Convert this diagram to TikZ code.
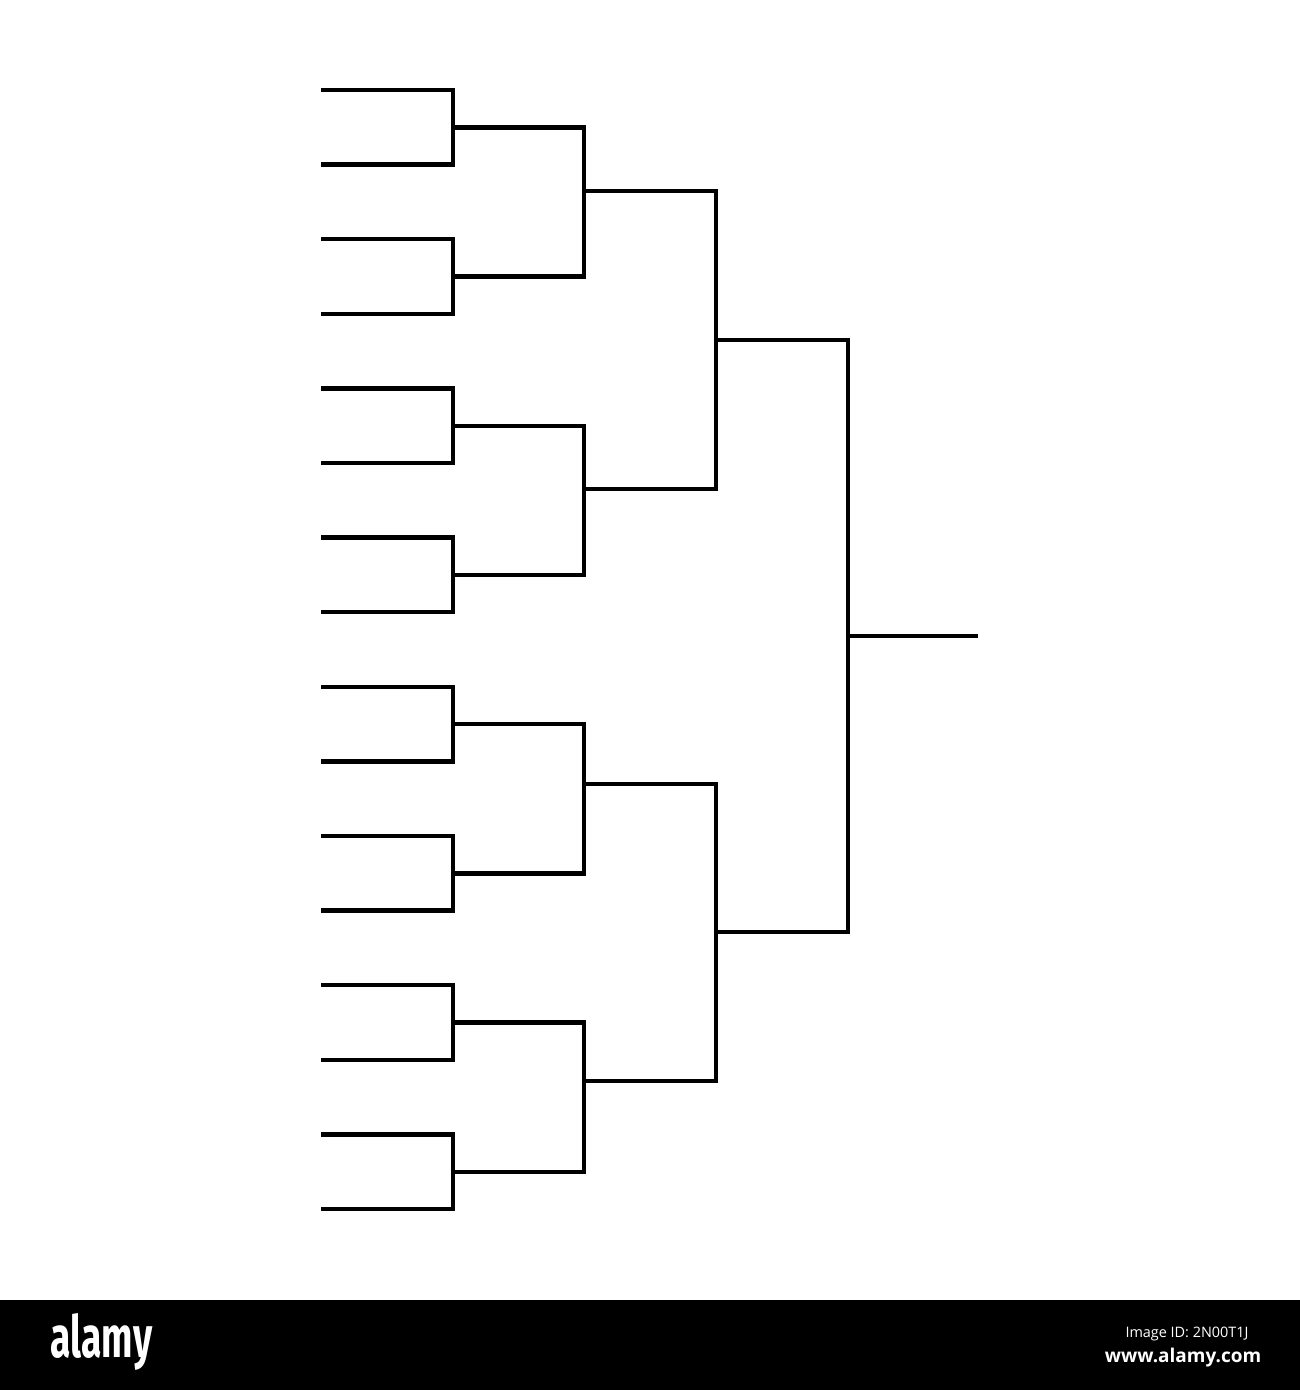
\documentclass[tikz,border=0pt]{standalone}
\usepackage{fontspec}
\setmainfont{Open Sans}
\newfontfamily\logofont{Fira Sans}
\usetikzlibrary{positioning}

\tikzset{
  bracket/.style={line width=1.25pt, line join=miter},
  stamp/.style={inner sep=0pt, text=white},
}

\begin{document}
\begin{tikzpicture}[x=0.01cm,y=-0.01cm]
	\useasboundingbox (0,0) rectangle (1300,1390);
	\pgfmathsetmacro{\EntryX}{321}
	\pgfmathsetmacro{\RoundOneX}{453}
	\pgfmathsetmacro{\RoundTwoX}{584}
	\pgfmathsetmacro{\RoundThreeX}{716}
	\pgfmathsetmacro{\FinalX}{848}
	\pgfmathsetmacro{\WinnerX}{978}
	\pgfmathsetmacro{\EntryGap}{74.6}
	
	% first round entries and their joints
	\foreach \i in {0,...,15}
		\coordinate (e\i) at (\EntryX, 90+\EntryGap*\i);
	\foreach \k [evaluate=\k as \a using int(2*\k), evaluate=\k as \b using int(2*\k+1)] in {0,...,7} {
		\coordinate (m\k) at (\RoundOneX, 127.3+2*\EntryGap*\k);
		\draw[bracket] (e\a) -| (m\k) |- (e\b);
	}
	
	% second round
	\coordinate (n0) at (\RoundTwoX,191);
	\coordinate (n1) at (\RoundTwoX,489);
	\coordinate (n2) at (\RoundTwoX,784);
	\coordinate (n3) at (\RoundTwoX,1081);
	\draw[bracket] (m0) -| (n0) |- (m1);
	\draw[bracket] (m2) -| (n1) |- (m3);
	\draw[bracket] (m4) -| (n2) |- (m5);
	\draw[bracket] (m6) -| (n3) |- (m7);
	
	% semi finals
	\coordinate (p0) at (\RoundThreeX,340);
	\coordinate (p1) at (\RoundThreeX,932);
	\draw[bracket] (n0) -| (p0) |- (n1);
	\draw[bracket] (n2) -| (p1) |- (n3);
	
	% final
	\coordinate (f) at (\FinalX,636);
	\coordinate (w) at (\WinnerX,636);
	\draw[bracket] (p0) -| (f) |- (p1);
	\draw[bracket] (f) -- (w);
	
	% stock photo strip
	\fill[black] (0,1300) rectangle (1300,1390);
	\node[stamp, anchor=base west] (logo) at (50,1357)
		{\scalebox{0.64}[1]{\logofont\fontsize{16.5}{16.5}\selectfont\bfseries alamy}};
	\node[stamp, anchor=base] (imageid) at (1187,1337)
		{\fontsize{4.1}{4.1}\selectfont Image ID: 2N00T1J};
	\node[stamp, anchor=base] (website) at (1183,1362)
		{\fontsize{5.4}{5.4}\selectfont\bfseries www.alamy.com};
\end{tikzpicture}
\end{document}
